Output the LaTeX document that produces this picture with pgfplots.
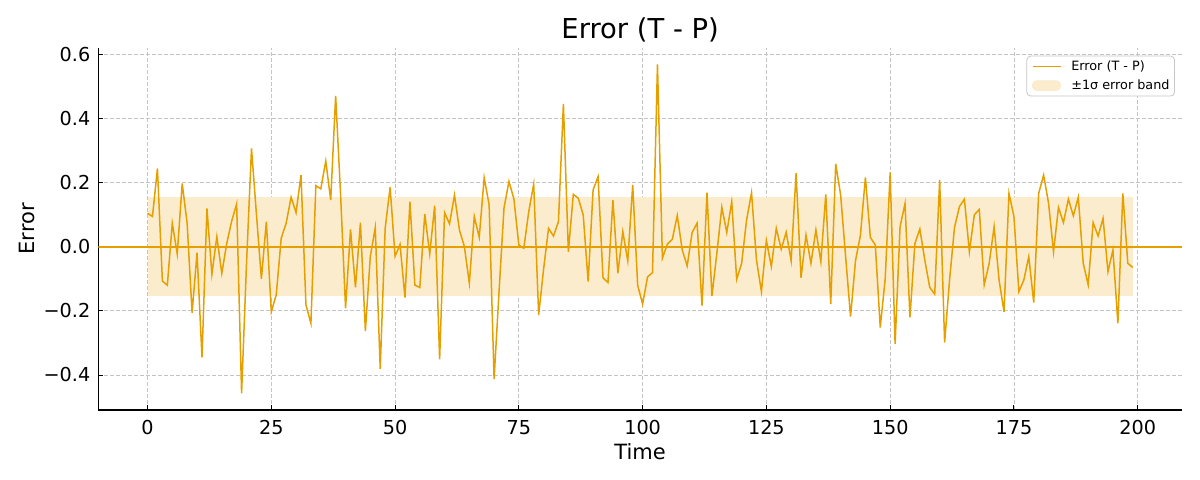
\documentclass[border=0pt]{standalone}
\usepackage{fontspec}
\setmainfont{DejaVu Sans}
\usepackage{pgfplots}
\pgfplotsset{compat=1.18}
\usepackage{pgfplotstable}
\definecolor{errorange}{HTML}{E69F00}
\definecolor{bandfill}{HTML}{FAECCC}
\definecolor{gridgrey}{HTML}{C4C4C4}

% error series: time, T - P
\pgfplotstableread{
t e
0 0.104
1 0.094
2 0.244
3 -0.107
4 -0.120
5 0.073
6 -0.023
7 0.197
8 0.073
9 -0.206
10 -0.019
11 -0.345
12 0.119
13 -0.086
14 0.031
15 -0.083
16 0.010
17 0.080
18 0.133
19 -0.457
20 -0.050
21 0.306
22 0.100
23 -0.100
24 0.078
25 -0.203
26 -0.150
27 0.026
28 0.073
29 0.154
30 0.106
31 0.223
32 -0.182
33 -0.239
34 0.190
35 0.180
36 0.267
37 0.145
38 0.470
39 0.160
40 -0.192
41 0.054
42 -0.127
43 0.075
44 -0.263
45 -0.030
46 0.059
47 -0.381
48 0.057
49 0.185
50 -0.030
51 0.007
52 -0.159
53 0.140
54 -0.120
55 -0.127
56 0.102
57 -0.023
58 0.128
59 -0.351
60 0.106
61 0.071
62 0.161
63 0.052
64 0.000
65 -0.114
66 0.094
67 0.029
68 0.215
69 0.130
70 -0.413
71 -0.140
72 0.120
73 0.203
74 0.149
75 0.005
76 -0.005
77 0.109
78 0.195
79 -0.213
80 -0.070
81 0.057
82 0.033
83 0.078
84 0.445
85 -0.016
86 0.163
87 0.151
88 0.099
89 -0.109
90 0.177
91 0.218
92 -0.097
93 -0.112
94 0.145
95 -0.083
96 0.047
97 -0.044
98 0.192
99 -0.120
100 -0.179
101 -0.094
102 -0.081
103 0.568
104 -0.036
105 0.008
106 0.023
107 0.097
108 -0.010
109 -0.060
110 0.044
111 0.073
112 -0.184
113 0.168
114 -0.154
115 -0.020
116 0.123
117 0.044
118 0.140
119 -0.102
120 -0.052
121 0.083
122 0.168
123 -0.042
124 -0.140
125 0.019
126 -0.062
127 0.057
128 -0.008
129 0.045
130 -0.044
131 0.229
132 -0.097
133 0.036
134 -0.052
135 0.052
136 -0.047
137 0.163
138 -0.179
139 0.258
140 0.161
141 -0.030
142 -0.218
143 -0.044
144 0.036
145 0.216
146 0.029
147 0.005
148 -0.252
149 -0.100
150 0.231
151 -0.303
152 0.062
153 0.134
154 -0.220
155 0.010
156 0.055
157 -0.042
158 -0.127
159 -0.148
160 0.208
161 -0.299
162 -0.104
163 0.060
164 0.125
165 0.148
166 -0.016
167 0.099
168 0.116
169 -0.119
170 -0.052
171 0.062
172 -0.104
173 -0.203
174 0.166
175 0.094
176 -0.140
177 -0.104
178 -0.031
179 -0.174
180 0.166
181 0.223
182 0.135
183 -0.016
184 0.122
185 0.075
186 0.148
187 0.096
188 0.154
189 -0.052
190 -0.119
191 0.075
192 0.033
193 0.088
194 -0.078
195 -0.010
196 -0.239
197 0.166
198 -0.052
199 -0.065
}\errdata

\begin{document}
\begin{tikzpicture}
\begin{axis}[
    scale only axis,
    width=542pt, height=181.2pt,
    xmin=-9.95, xmax=208.95,
    ymin=-0.509, ymax=0.620,
    axis x line*=bottom, axis y line*=left,
    axis line style={-, line width=0.7pt},
    xtick={0,25,...,200},
    ytick={-0.4,-0.2,0,0.2,0.4,0.6},
    yticklabels={−0.4,−0.2,0.0,0.2,0.4,0.6},
    /pgf/number format/assume math mode=true,
    tick align=inside,
    major tick length=2.4pt,
    tick style={black, line width=0.5pt},
    ticklabel style={font=\fontsize{9.6}{11}\selectfont},
    xticklabel style={inner sep=0pt, anchor=north, yshift=-5pt},
    yticklabel style={inner sep=0pt, anchor=east, xshift=-3.8pt},
    grid=major,
    major grid style={gridgrey, line width=0.4pt, dash pattern=on 2pt off 1pt},
    title={Error (T - P)},
    title style={at={(axis description cs:0.5,1)}, anchor=base, yshift=-1.6pt,
        inner sep=0pt, font=\fontsize{13.7}{16}\selectfont},
    xlabel={Time},
    xlabel style={at={(axis description cs:0.5,0)}, anchor=north, yshift=-16.5pt,
        inner sep=0pt, font=\fontsize{10.5}{12}\selectfont},
    ylabel={Error},
    ylabel style={at={(axis description cs:-0.058,0.5)}, anchor=south, rotate=0,
        inner sep=0pt, font=\fontsize{10.5}{12}\selectfont},
    legend style={at={(axis description cs:0.9935,0.978)}, anchor=north east,
        draw=black!22, rounded corners=2pt, fill=white,
        font=\fontsize{6.4}{7.7}\selectfont,
        inner xsep=2.5pt, inner ysep=2pt, row sep=3pt,
        nodes={inner sep=0pt, text height=5pt, text depth=1.5pt},
        /tikz/every odd column/.append style={column sep=5pt}},
    legend cell align=left,
]
\coordinate (bl) at (rel axis cs:0,0);
\coordinate (tr) at (rel axis cs:1,1);

% +-1 sigma band
\addplot[draw=none, fill=bandfill, forget plot] coordinates
    {(0,-0.153) (199,-0.153) (199,0.156) (0,0.156)} -- cycle;
% zero line
\addplot[errorange, line width=0.9pt, forget plot] coordinates
    {(-9.95,0) (208.95,0)};
% error series
\addplot[errorange, line width=0.75pt, forget plot] table[x=t, y=e] {\errdata};

\addlegendimage{legend image code/.code={
    \draw[errorange, line width=0.75pt] (0pt,0pt) -- (14pt,0pt);}}
\addlegendentry{Error (T - P)}
\addlegendimage{legend image code/.code={
    \fill[bandfill] (0pt,-2.4pt) rectangle (14pt,2.4pt);}}
\addlegendentry{±1σ error band}
\end{axis}
\path ([shift={(-49.15pt,-35pt)}]bl) rectangle ([shift={(9pt,23.85pt)}]tr);
\end{tikzpicture}
\end{document}
